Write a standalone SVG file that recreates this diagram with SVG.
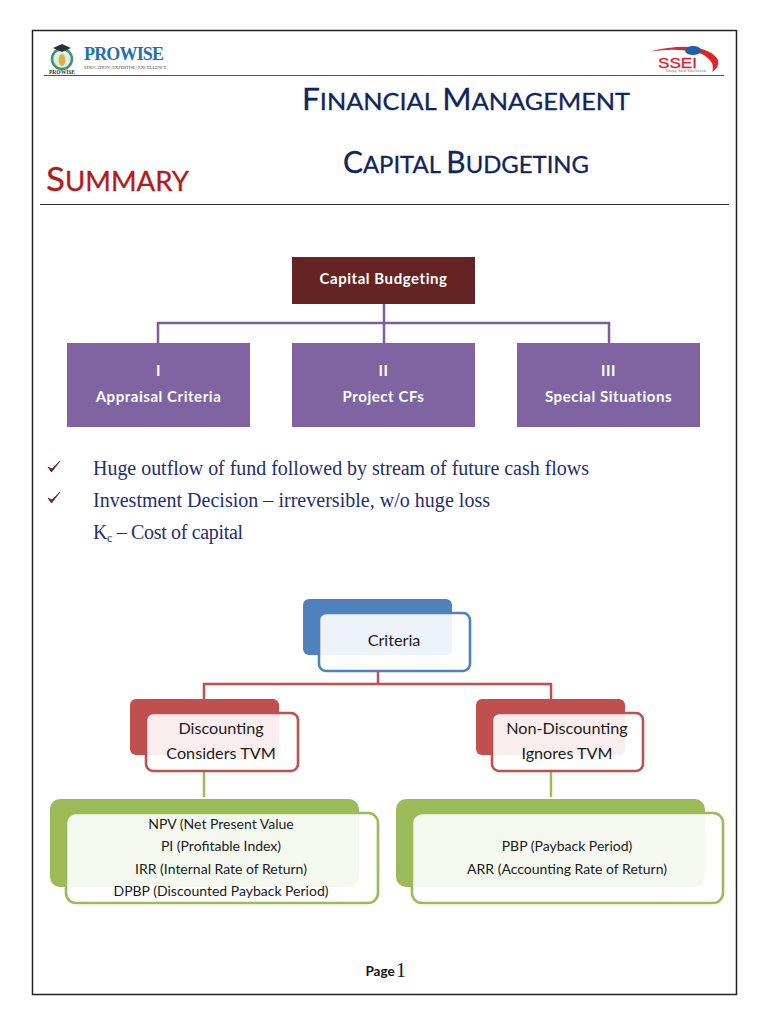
<svg xmlns="http://www.w3.org/2000/svg" width="768" height="1024" viewBox="0 0 768 1024">
<style>
.cal{font-family:Lato,"Open Sans","Liberation Sans",sans-serif;text-anchor:middle}
.w{font-size:15px;font-weight:700;fill:#fff;letter-spacing:.55px}
.k{font-size:16.2px;fill:#1a1a1a}
.s{font-size:14px;fill:#1a1a1a}
.b{font-family:"Liberation Serif","DejaVu Serif",serif;font-size:20px;fill:#1f2f6b}
.t{font-family:Lato,"Open Sans",sans-serif;fill:#10245f;stroke:#10245f;stroke-width:.3}
.front{fill:#fff;fill-opacity:.9;stroke-width:2.6}
.conn{fill:none;stroke-width:2.5}
</style>
<rect x="0" y="0" width="768" height="1024" fill="#fff"/>
<rect id="page-border" x="32.5" y="30.5" width="704" height="964" fill="none" stroke="#222" stroke-width="1.5"/>
<g id="header">
<line x1="44" y1="75.500" x2="724" y2="75.500" stroke="#b8282a" stroke-width="1"/>
<g id="prowise-logo">
<circle cx="62" cy="59" r="10" fill="#dfeee4" stroke="#3f8f7a" stroke-width="2.500"/>
<ellipse cx="62" cy="60" rx="3.500" ry="6" fill="#d8b04a"/>
<path d="M53 48 L62 44 L71 48 L62 52Z" fill="#2a2f3a"/>
<text x="62" y="74" font-family="Liberation Serif,serif" font-size="5.500" font-weight="700" fill="#333" text-anchor="middle" textLength="26">PROWISE</text>
<text x="84" y="60" font-family="Liberation Serif,serif" font-size="18" font-weight="700" fill="#1f6fb5" textLength="80">PROWISE</text>
<text x="84" y="69" font-family="Liberation Serif,serif" font-size="4.800" fill="#555" textLength="83">EDUCATION | EXPERTISE | EXCELLENCE</text>
</g>
<g id="ssei-logo">
<path d="M650 51.500 Q672 46 690 47 Q712 49 718 60 Q720 67 712 72 Q716 62 702 54 Q680 47 650 51.500Z" fill="#e0262c"/>
<ellipse cx="693" cy="50.500" rx="8" ry="4.500" fill="#1f5fa8"/>
<text x="658" y="67.500" font-family="Liberation Sans,sans-serif" font-size="14.500" fill="#e0262c" stroke="#e0262c" stroke-width=".3" textLength="39" lengthAdjust="spacingAndGlyphs">SSEI</text>
<text x="666" y="72" font-family="Liberation Sans,sans-serif" font-size="3" fill="#667" textLength="40">Sanjay Saraf Educational</text>
</g>
<text class="t" x="302" y="110" font-size="30" textLength="328" lengthAdjust="spacingAndGlyphs">F<tspan font-size="24">INANCIAL </tspan>M<tspan font-size="24">ANAGEMENT</tspan></text>
<text class="t" x="343" y="173" font-size="30" textLength="246" lengthAdjust="spacingAndGlyphs">C<tspan font-size="24">APITAL </tspan>B<tspan font-size="24">UDGETING</tspan></text>
<text x="46" y="191" font-family="Lato,sans-serif" font-size="33" fill="#b01c1c" stroke="#b01c1c" stroke-width=".3" textLength="143" lengthAdjust="spacingAndGlyphs">S<tspan font-size="26">UMMARY</tspan></text>
<line x1="40" y1="204.500" x2="729" y2="204.500" stroke="#333" stroke-width="1"/>
</g>
<g id="connectors">
<path class="conn" stroke="#7b5ea0" d="M384 304V323M158 343V323H609V343M384 323V343"/>
<path class="conn" stroke="#c0504d" d="M378 672V684M204 699V684H551V699"/>
<path class="conn" stroke="#9bbb59" d="M204 772V797M551 772V797"/>
</g>
<g id="node-capital-budgeting"><rect x="292" y="257" width="183" height="47" fill="#632423"/><text class="cal w" x="383.500" y="284">Capital Budgeting</text></g>
<g id="node-appraisal"><rect x="67" y="343" width="183" height="84" fill="#8064a2"/><text class="cal w" x="158.500" y="376">I</text><text class="cal w" x="158.500" y="402">Appraisal Criteria</text></g>
<g id="node-project"><rect x="292" y="343" width="183" height="84" fill="#8064a2"/><text class="cal w" x="383.500" y="376">II</text><text class="cal w" x="383.500" y="402">Project CFs</text></g>
<g id="node-special"><rect x="517" y="343" width="183" height="84" fill="#8064a2"/><text class="cal w" x="608.500" y="376">III</text><text class="cal w" x="608.500" y="402">Special Situations</text></g>
<g id="bullets">
<path d="M48 467 L51.500 472 L60 461 L52 469Z" fill="#632423" stroke="#632423" stroke-width=".8"/>
<path d="M48 498 L51.500 503 L60 492 L52 500Z" fill="#632423" stroke="#632423" stroke-width=".8"/>
<text class="b" x="93" y="475" textLength="496">Huge outflow of fund followed by stream of future cash flows</text>
<text class="b" x="93" y="507" textLength="397">Investment Decision – irreversible, w/o huge loss</text>
<text class="b" x="93" y="539" textLength="150">K<tspan font-size="12" dy="3">c</tspan><tspan dy="-3"> – Cost of capital</tspan></text>
</g>
<g id="node-criteria">
<rect x="303" y="599" width="149" height="56" rx="6" fill="#4f81bd"/>
<rect class="front" x="319" y="613" width="151" height="58" rx="7" stroke="#4f81bd"/>
<text class="cal k" x="394" y="646">Criteria</text>
</g>
<g id="node-discounting">
<rect x="130" y="699" width="149" height="56" rx="6" fill="#c0504d"/>
<rect class="front" x="146" y="713" width="152" height="58" rx="7" stroke="#c0504d"/>
<text class="cal k" x="221" y="734">Discounting</text>
<text class="cal k" x="221" y="759">Considers TVM</text>
</g>
<g id="node-non-discounting">
<rect x="476" y="699" width="149" height="56" rx="6" fill="#c0504d"/>
<rect class="front" x="492" y="713" width="151" height="58" rx="7" stroke="#c0504d"/>
<text class="cal k" x="567" y="734">Non-Discounting</text>
<text class="cal k" x="567" y="759">Ignores TVM</text>
</g>
<g id="node-discounting-list">
<rect x="50" y="799" width="309" height="88" rx="10" fill="#9bbb59"/>
<rect class="front" x="66" y="813" width="312" height="90" rx="10" stroke="#9bbb59"/>
<text class="cal s" x="221" y="829">NPV (Net Present Value</text>
<text class="cal s" x="221" y="851">PI (Profitable Index)</text>
<text class="cal s" x="221" y="874">IRR (Internal Rate of Return)</text>
<text class="cal s" x="221" y="896">DPBP (Discounted Payback Period)</text>
</g>
<g id="node-non-discounting-list">
<rect x="396" y="799" width="309" height="88" rx="10" fill="#9bbb59"/>
<rect class="front" x="412" y="813" width="311" height="90" rx="10" stroke="#9bbb59"/>
<text class="cal s" x="567" y="851">PBP (Payback Period)</text>
<text class="cal s" x="567" y="874">ARR (Accounting Rate of Return)</text>
</g>
<text x="380" y="976" font-family="Lato,sans-serif" font-size="13.500" font-weight="700" fill="#111" text-anchor="middle">Page</text>
<text x="401" y="977" font-family="Liberation Serif,serif" font-size="20" fill="#111" text-anchor="middle">1</text>
</svg>
